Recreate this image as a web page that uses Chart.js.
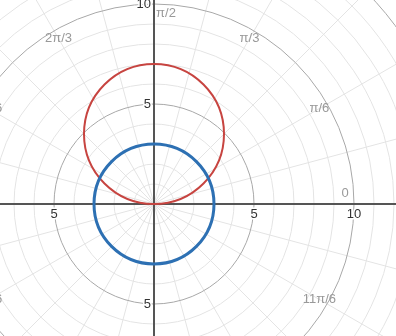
<!DOCTYPE html>
<html>
<head>
<meta charset="utf-8">
<script src="https://cdn.jsdelivr.net/npm/chart.js@4/dist/chart.umd.min.js"></script>
<style>
    html, body { margin: 0; padding: 0; background: #fff; }
    #contenedor { width: 396px; height: 336px; position: relative; }
</style>
</head>
<body>
<div id="contenedor"><canvas id="grafico-polar"></canvas></div>
<script>
// Rango visible de los ejes (unidades del plano)
const xRange = [-7.7, 12.1];
const yRange = [-6.6, 10.2];

// Marcas numéricas de los ejes
const xTicks = [-5, 5, 10];
const xTickLabels = ['5', '5', '10'];
const yTicks = [10, 5, -5];
const yTickLabels = ['10', '5', '5'];

// Rejilla polar: círculos cada unidad, radios cada π/12
const gridRadii = [1, 2, 3, 4, 5, 6, 7, 8, 9, 10, 11, 12, 13, 14, 15, 16];
const majorRadii = [5, 10, 15];
const spokeSteps = 24;

// Etiquetas de ángulo (cada π/6)
const angleLabels = ['0', 'π/6', 'π/3', 'π/2', '2π/3', '5π/6', 'π', '7π/6', '4π/3', '3π/2', '5π/3', '11π/6'];
const angleLabelRadius = 9.55;

// Curvas: r = 7 sin θ (círculo de centro (0, 3.5)) y r = 3
const curveNames = ['r = 7 sin θ', 'r = 3'];
const curveCentersX = [0, 0];
const curveCentersY = [3.5, 0];
const curveRadii = [3.5, 3];

// Estilos
const curveColors = ['#c74440', '#2d70b3'];
const curveWidths = [2, 3];
const FONT = '13px "Liberation Sans", Arial, sans-serif';

// Plugin que dibuja la rejilla polar, los ejes, las curvas y las etiquetas
const polarPlugin = {
    id: 'polar',
    beforeDatasetsDraw(chart) {
        const {ctx, chartArea, scales: {x, y}} = chart;
        const ox = x.getPixelForValue(0);
        const oy = y.getPixelForValue(0);
        const unit = x.getPixelForValue(1) - ox;
        ctx.save();
        ctx.beginPath();
        ctx.rect(chartArea.left, chartArea.top, chartArea.width, chartArea.height);
        ctx.clip();

        // Círculos menores
        ctx.lineWidth = 1;
        ctx.strokeStyle = '#e4e4e4';
        gridRadii.filter(r => !majorRadii.includes(r)).forEach(r => {
            ctx.beginPath();
            ctx.arc(ox, oy, r * unit, 0, Math.PI * 2);
            ctx.stroke();
        });
        // Radios cada π/12
        const far = gridRadii[gridRadii.length - 1] * unit * 1.5;
        for (let i = 0; i < spokeSteps; i++) {
            const a = i * Math.PI * 2 / spokeSteps;
            ctx.beginPath();
            ctx.moveTo(ox, oy);
            ctx.lineTo(ox + far * Math.cos(a), oy - far * Math.sin(a));
            ctx.stroke();
        }
        // Círculos mayores
        ctx.strokeStyle = '#a8a8a8';
        majorRadii.forEach(r => {
            ctx.beginPath();
            ctx.arc(ox, oy, r * unit, 0, Math.PI * 2);
            ctx.stroke();
        });

        // Ejes
        ctx.strokeStyle = '#555';
        ctx.lineWidth = 2;
        ctx.beginPath();
        ctx.moveTo(chartArea.left, oy);
        ctx.lineTo(chartArea.right, oy);
        ctx.moveTo(ox, chartArea.top);
        ctx.lineTo(ox, chartArea.bottom);
        ctx.stroke();

        // Curvas
        chart.data.datasets.forEach((ds, i) => {
            const cx = x.getPixelForValue(curveCentersX[i]);
            const cy = y.getPixelForValue(curveCentersY[i]);
            ctx.strokeStyle = ds.borderColor;
            ctx.lineWidth = ds.borderWidth;
            ctx.beginPath();
            ctx.arc(cx, cy, curveRadii[i] * unit, 0, Math.PI * 2);
            ctx.stroke();
        });

        // Etiquetas de ángulo
        ctx.font = FONT;
        ctx.textAlign = 'center';
        ctx.textBaseline = 'middle';
        ctx.fillStyle = '#999';
        angleLabels.forEach((t, i) => {
            const a = i * Math.PI / 6;
            let px = x.getPixelForValue(angleLabelRadius * Math.cos(a));
            let py = y.getPixelForValue(angleLabelRadius * Math.sin(a));
            if (i % 3 === 0) {
                if (i % 6 === 0) py -= 11; else px += 12;
            }
            ctx.fillText(t, px, py);
        });

        // Etiquetas numéricas con halo blanco
        ctx.fillStyle = '#333';
        ctx.strokeStyle = '#fff';
        ctx.lineWidth = 3;
        ctx.lineJoin = 'round';
        xTicks.forEach((v, i) => {
            const px = x.getPixelForValue(v);
            ctx.textAlign = 'center';
            ctx.strokeText(xTickLabels[i], px, oy + 10);
            ctx.fillText(xTickLabels[i], px, oy + 10);
        });
        yTicks.forEach((v, i) => {
            const py = y.getPixelForValue(v);
            ctx.textAlign = 'right';
            ctx.strokeText(yTickLabels[i], ox - 3, py);
            ctx.fillText(yTickLabels[i], ox - 3, py);
        });
        ctx.restore();
    }
};

const ctx = document.getElementById('grafico-polar').getContext('2d');
const chart = new Chart(ctx, {
    type: 'scatter',
    data: {
        datasets: curveNames.map((name, i) => ({
            label: name,
            data: [],
            borderColor: curveColors[i],
            borderWidth: curveWidths[i]
        }))
    },
    options: {
        responsive: true,
        maintainAspectRatio: false,
        animation: false,
        layout: { padding: 0 },
        scales: {
            x: { type: 'linear', min: xRange[0], max: xRange[1], display: false },
            y: { type: 'linear', min: yRange[0], max: yRange[1], display: false }
        },
        plugins: {
            legend: { display: false },
            tooltip: { enabled: false }
        }
    },
    plugins: [polarPlugin]
});
</script>
</body>
</html>
